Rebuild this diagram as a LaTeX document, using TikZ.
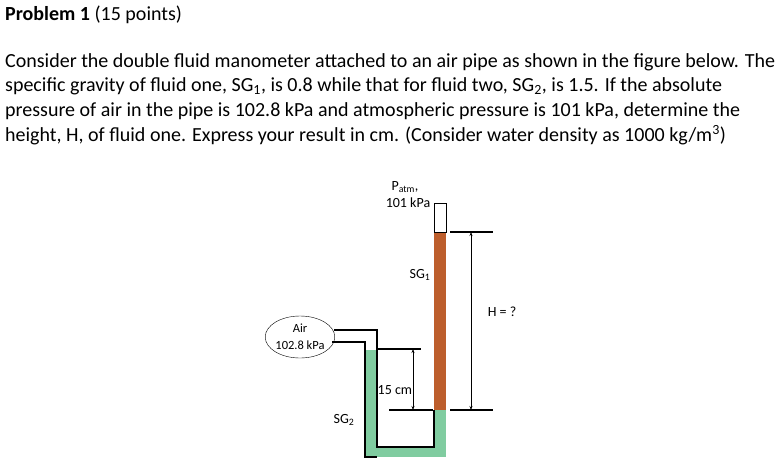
\documentclass[tikz,border=0pt]{standalone}
\usepackage{fontspec}
\setmainfont{Carlito}
\usetikzlibrary{arrows.meta,shapes.geometric}
\definecolor{orng}{RGB}{189,94,44}
\definecolor{grn}{RGB}{128,204,160}
\begin{document}
\begin{tikzpicture}[x=1pt,y=-1pt,
  para/.style={anchor=west,inner sep=0,font=\fontsize{20}{22}\selectfont},
  lab/.style={inner sep=0,font=\fontsize{14}{16}\selectfont},
  wall/.style={line width=1.1pt},
  dim/.style={line width=1.2pt},
  arr/.style={line width=0.8pt,{Stealth[length=4pt]}-{Stealth[length=4pt]}}]
\useasboundingbox (0,0) rectangle (781,463);
\node[para] (t0) at (5,15) {\textbf{Problem 1} (15 points)};
\node[para] (t1) at (5,62) {Consider the double fluid manometer attached to an air pipe as shown in the figure below. The};
\node[para] (t2) at (5,86) {specific gravity of fluid one, SG\textsubscript{1}, is 0.8 while that for fluid two, SG\textsubscript{2}, is 1.5. If the absolute};
\node[para] (t3) at (5,111) {pressure of air in the pipe is 102.8 kPa and atmospheric pressure is 101 kPa, determine the};
\node[para] (t4) at (5,135) {height, H, of fluid one. Express your result in cm. (Consider water density as 1000 kg/m\textsuperscript{3})};
% fluids
\fill[grn] (365,350) rectangle (377,457);
\fill[grn] (365,447) rectangle (446,457);
\fill[grn] (434,410) rectangle (446,457);
\fill[orng] (434,232) rectangle (446,410);
\draw[line width=0.8pt] (434,203) rectangle (446,232);
% air
\node[draw,ellipse,minimum width=68,minimum height=42,inner sep=0,align=center,font=\fontsize{12.5}{17}\selectfont] (air) at (300,337) {Air\\102.8 kPa};
\draw[wall] (334,330) -- (377,330) -- (377,447) -- (434,447) -- (434,410);
\draw[wall] (332,342) -- (365,342) -- (365,457) -- (377,457);
% 15 cm
\coordinate (a1) at (377,349); \coordinate (a2) at (421,349);
\coordinate (b1) at (389,410); \coordinate (b2) at (433,410);
\draw[dim] (a1) -- (a2); \draw[dim] (b1) -- (b2);
\draw[arr] (413,349) -- (413,410);
\node[lab,anchor=west] (cm) at (377.5,390) {15 cm};
% H
\coordinate (h1) at (450,232); \coordinate (h2) at (493,232);
\coordinate (h3) at (450,410); \coordinate (h4) at (493,410);
\draw[dim] (h1) -- (h2); \draw[dim] (h3) -- (h4);
\draw[arr] (471,232) -- (471,410);
\node[lab] (H) at (502,312) {H = ?};
\node[lab] (sg1) at (420,275) {SG\textsubscript{1}};
\node[lab] (sg2) at (344,420) {SG\textsubscript{2}};
\node[lab] (patm) at (405,187) {P\textsubscript{atm},};
\node[lab] (p101) at (408,203) {101 kPa};
\end{tikzpicture}
\end{document}
